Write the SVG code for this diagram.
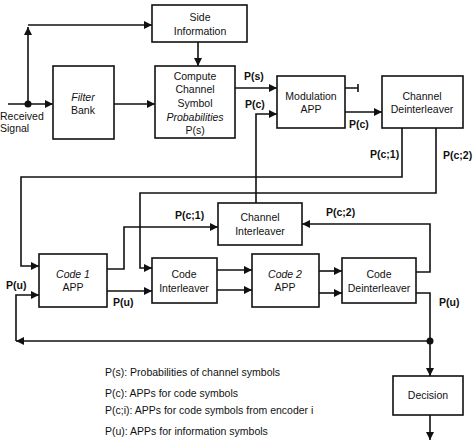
<svg xmlns="http://www.w3.org/2000/svg" width="474" height="447" viewBox="0 0 474 447">
<style>
.box{fill:#fff;stroke:#111;stroke-width:1.6}
.ln{fill:none;stroke:#111;stroke-width:1.6}
text{font-family:"Liberation Sans",Arial,sans-serif;font-size:10.5px;fill:#111}
.c{text-anchor:middle}
.b{font-weight:bold}
.i{font-style:italic}
.lg{font-size:10.5px}
</style>
<defs>
<marker id="ah" viewBox="0 0 10 10" refX="10" refY="5" markerWidth="8" markerHeight="8" markerUnits="userSpaceOnUse" orient="auto"><path d="M0,0 L10,5 L0,10 z" fill="#111"/></marker>
</defs>
<rect width="474" height="447" fill="#fff"/>
<g id="connectors">
<path class="ln" d="M8,104 H53" marker-end="url(#ah)"/>
<path class="ln" d="M28,104 V27" marker-end="url(#ah)"/>
<path class="ln" d="M28,25 H152" marker-end="url(#ah)"/>
<circle cx="28" cy="104" r="3.5" fill="#111"/>
<path class="ln" d="M114,104 H155" marker-end="url(#ah)"/>
<path class="ln" d="M198,42 V66" marker-end="url(#ah)"/>
<path class="ln" d="M235,88 H277" marker-end="url(#ah)"/>
<path class="ln" d="M256,203 V114 H277" marker-end="url(#ah)"/>
<path class="ln" d="M345,88 H358 M358,84 V92"/>
<path class="ln" d="M345,112 H382" marker-end="url(#ah)"/>
<path class="ln" d="M402,128 V177 H21 V266 H39" marker-end="url(#ah)"/>
<path class="ln" d="M436,128 V193 H140 V268 H152" marker-end="url(#ah)"/>
<path class="ln" d="M107,269 H124 V227 H218" marker-end="url(#ah)"/>
<path class="ln" d="M107,291 H152" marker-end="url(#ah)"/>
<path class="ln" d="M217,270 H252" marker-end="url(#ah)"/>
<path class="ln" d="M217,290 H252" marker-end="url(#ah)"/>
<path class="ln" d="M319,271 H342" marker-end="url(#ah)"/>
<path class="ln" d="M319,293 H342" marker-end="url(#ah)"/>
<path class="ln" d="M416,272 H430 V224 H302" marker-end="url(#ah)"/>
<path class="ln" d="M416,293 H430 V376" marker-end="url(#ah)"/>
<circle cx="430" cy="341" r="3.5" fill="#111"/>
<path class="ln" d="M430,341 H16" marker-end="url(#ah)"/>
<path class="ln" d="M16,341 V295 H39" marker-end="url(#ah)"/>
<path class="ln" d="M430,415 V440" marker-end="url(#ah)"/>
</g>
<g id="labels">
<text x="0" y="120">Received</text>
<text x="0" y="132">Signal</text>
<text x="244" y="80" class="b">P(s)</text>
<text x="245" y="108" class="b">P(c)</text>
<text x="349" y="128" class="b">P(c)</text>
<text x="370" y="158" class="b">P(c;1)</text>
<text x="443" y="159" class="b">P(c;2)</text>
<text x="175" y="219" class="b">P(c;1)</text>
<text x="326" y="216" class="b">P(c;2)</text>
<text x="6" y="289" class="b">P(u)</text>
<text x="113" y="306" class="b">P(u)</text>
<text x="439" y="306" class="b">P(u)</text>
</g>
<g id="side-information">
<rect class="box" x="152" y="5" width="95" height="37"/>
<text x="200" y="21" class="c">Side</text>
<text x="200" y="35" class="c">Information</text>
</g>
<g id="filter-bank">
<rect class="box" x="53" y="66" width="61" height="73"/>
<text x="83" y="101" class="c i">Filter</text>
<text x="83" y="114" class="c">Bank</text>
</g>
<g id="compute">
<rect class="box" x="155" y="66" width="80" height="72"/>
<text x="195" y="80" class="c">Compute</text>
<text x="195" y="93" class="c">Channel</text>
<text x="195" y="107" class="c">Symbol</text>
<text x="195" y="121" class="c i">Probabilities</text>
<text x="195" y="134" class="c">P(s)</text>
</g>
<g id="modulation-app">
<rect class="box" x="277" y="76" width="68" height="52"/>
<text x="311" y="100" class="c">Modulation</text>
<text x="311" y="113" class="c">APP</text>
</g>
<g id="channel-deinterleaver">
<rect class="box" x="382" y="76" width="81" height="52"/>
<text x="422" y="100" class="c">Channel</text>
<text x="422" y="113" class="c">Deinterleaver</text>
</g>
<g id="channel-interleaver">
<rect class="box" x="218" y="203" width="84" height="42"/>
<text x="260" y="221" class="c">Channel</text>
<text x="260" y="235" class="c">Interleaver</text>
</g>
<g id="code1-app">
<rect class="box" x="39" y="254" width="68" height="53"/>
<text x="73" y="278" class="c i">Code 1</text>
<text x="73" y="291" class="c">APP</text>
</g>
<g id="code-interleaver">
<rect class="box" x="152" y="258" width="65" height="45"/>
<text x="184" y="278" class="c">Code</text>
<text x="184" y="292" class="c">Interleaver</text>
</g>
<g id="code2-app">
<rect class="box" x="252" y="254" width="67" height="53"/>
<text x="285" y="278" class="c i">Code 2</text>
<text x="285" y="291" class="c">APP</text>
</g>
<g id="code-deinterleaver">
<rect class="box" x="342" y="258" width="74" height="45"/>
<text x="379" y="278" class="c">Code</text>
<text x="379" y="292" class="c">Deinterleaver</text>
</g>
<g id="decision">
<rect class="box" x="393" y="376" width="70" height="39"/>
<text x="428" y="399" class="c">Decision</text>
</g>
<g id="legend">
<text x="105" y="376" class="lg">P(s):  Probabilities of channel symbols</text>
<text x="105" y="397" class="lg">P(c):  APPs for code symbols</text>
<text x="105" y="414" class="lg">P(c;i):  APPs for code symbols from encoder i</text>
<text x="105" y="435" class="lg">P(u):  APPs for information symbols</text>
</g>
</svg>
